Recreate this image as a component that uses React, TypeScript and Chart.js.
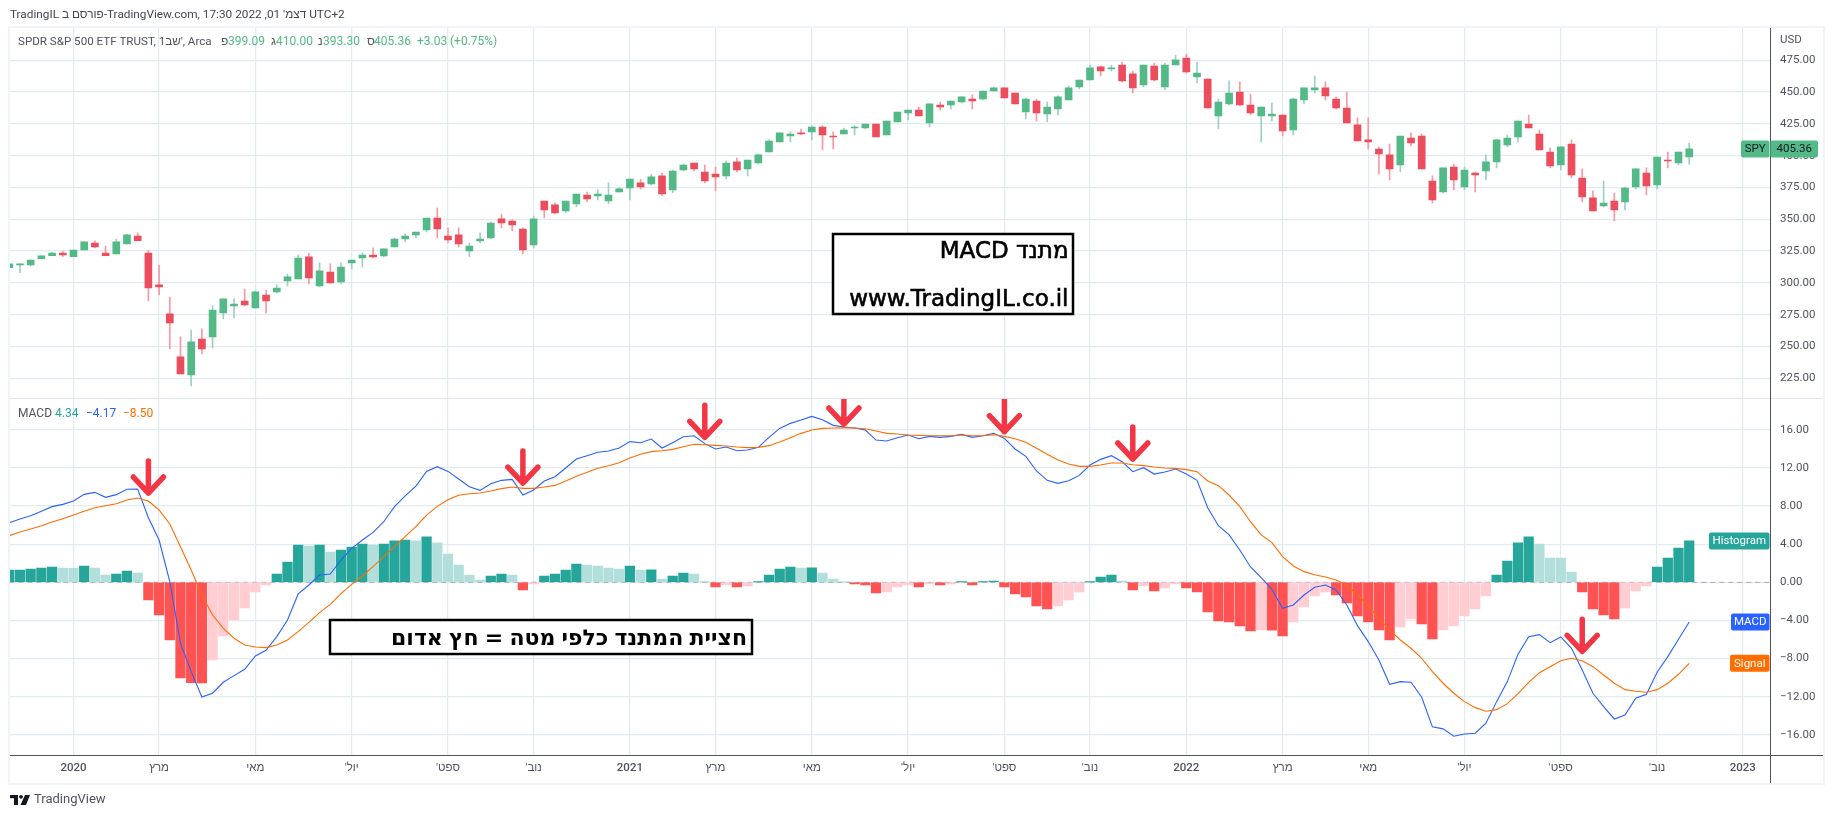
import React, { useEffect, useRef } from "react";
import { Chart, registerables } from "chart.js";

Chart.register(...registerables);

const opens = [312,314.1,314.1,319.1,321.4,323.5,320.6,325.9,331.4,323.5,322.7,330.6,336.9,323.5,298.4,275.6,241.8,227.6,255.9,257.5,276.4,281.9,285.8,280.3,290.5,292.9,301.5,303.1,320.4,297.6,308.6,300.7,315.7,319.6,321.9,321.2,328.3,334.5,337.7,341.6,351,336.9,337.7,325.1,333,335.3,350.3,348.7,342.4,329.8,364.4,361.3,356.5,362,369.1,368.3,364.4,371.5,374.6,378.6,377.8,384.1,373.1,388.8,394.3,387.2,385.6,384.1,395.1,389.6,394.3,402.9,410.8,415.5,417.9,418.7,422.6,415.5,417.1,421.8,421.8,424.9,416.3,426.5,433.6,435.9,425.7,439.9,439.9,442.2,444.6,444.6,450.9,453.3,449.3,434.4,443,432.8,436.7,443.8,454,459.5,469.8,468.2,471.3,464.3,455.6,470.5,454,471.3,476.8,461.9,460.3,431.2,440.7,450.1,439.9,431.2,431.2,432,420.2,443.8,451.7,453.3,444.6,437.5,424.2,412.4,405.3,400.6,392.7,413.9,415.5,380.1,371.5,391.1,375.4,386.4,388,395.1,408.4,414.7,424.9,417.1,402.9,392.7,409.2,382.5,366.8,360.5,364.4,363.6,375.4,386.4,377,396.6,394.3,399.09];
const highs = [314.9,314.9,318,321.2,324,324.8,325.9,332.2,333,329,334.5,338.2,339.3,325.9,314.1,288.9,257.5,263,263.8,281.9,287.4,287.4,295.2,293.7,294.4,298.4,307,321.9,323.5,315.7,314.9,315.7,318,323.5,327.5,326.7,335.3,338.5,340,351,358.9,343.2,343.2,331.4,339.3,347.9,354.2,349.5,343.2,352.6,364.4,362.8,364.4,369.9,371.5,373.1,378.6,374.6,381.7,381.7,385.6,386.4,388.8,393.5,394.3,392.7,391.1,395.9,398.2,396.6,401.4,412.4,417.9,418.7,421,423.4,423.4,418.7,421.8,423.4,424.9,424.9,427.3,434.4,435.9,438.3,440.7,442.2,443,446.2,447.8,450.9,454,453.3,449.3,445.4,444.6,442.2,447,454.8,459.5,471.3,470.5,471.3,473.7,466.6,471.3,472.9,472.9,479.2,480,473.7,460.3,444.6,458.8,458,448.5,438.3,441.5,432,445.4,453.3,462.7,458,446.2,450.1,429.7,429.7,406.9,409.2,415.5,417.9,417.1,384.1,390.4,393.5,391.1,387.2,400.6,413.1,416.3,427.3,432,420.2,406.1,406.9,412.4,389.6,372.3,380.1,370.7,375.4,389.6,390.4,399,402.9,402.9,410];
const lows = [312,308.1,313.3,319.1,321.4,320.6,320.6,325.9,327.5,321.4,322.7,330.6,333.2,285.8,290.5,248,228.4,218.9,244.1,248.8,271.6,272.4,281.9,280.3,276.4,292.1,297.6,303.1,299.2,296.8,299.9,299.2,310.9,312.5,319.6,320.4,328.3,332.2,335.3,340,335.3,331.4,328.3,320.4,331.4,334.5,343.2,340.8,322.7,327.5,351,354.2,355,359.7,363.6,365.2,362,371.5,365.2,373.9,377,368.3,370.7,388,388,378.6,372.3,381.7,387.2,384.1,393.5,402.9,410.8,410.8,416.3,412.4,404.5,405.3,417.1,416.3,421,414.7,416.3,426.5,428.1,431.2,422.6,435.9,436.7,441.5,436.7,443.8,450.9,445.4,440.7,428.9,427.3,426.5,432,443.8,452.5,459.5,462.7,466.6,458,449.3,454,458.8,451.7,471.3,465,457.2,437.5,421,439.9,439.1,432,410.8,427.3,415.5,416.3,440.7,449.3,443.8,436.7,425.7,411.6,405.3,385.6,380.9,387.2,407.7,389.6,362.8,370.7,373.1,373.1,371.5,380.9,390.4,406.9,410.8,421.8,404.5,390.4,388.8,382.5,363.6,356.5,359.7,348.7,357.3,373.9,369.1,373.9,390.4,392.7,393.3];
const closes = [314.9,314.9,318,321.2,323.5,322,325.9,332.2,328.3,321.4,332.2,337.7,333.2,296,296.8,268.5,228.4,253.6,248,278.7,287.4,283.4,282.7,292.9,285.8,296,304.7,319.6,303.9,309.4,299.9,312.5,318,321.9,320.4,326.7,334.5,336.9,340,351,342.4,333.8,330.6,329,334.5,347.1,347.1,345.5,325.9,350.3,357.3,355,364.4,369.9,366,369.9,369.1,373.9,381.7,375.4,383.3,369.9,388,392.7,389.6,380.1,383.3,394.3,388.8,396.6,400.6,411.6,417.9,417.1,417.1,422.6,416.3,414.7,420.2,422.6,424.9,414.7,427.3,434.4,435.9,431.2,440.7,438.3,443,446.2,443,450.9,453.3,445.4,440.7,444.6,433.6,438.3,446.2,453.3,459.5,469,466.6,469,458.8,453.3,471.3,459.5,471.3,475.3,465.8,465,437.5,442.2,449.3,439.9,433.6,438.3,432.8,419.4,444.6,453.3,453.3,447,437.5,425.7,411.6,410.8,401.4,389.6,415.5,410,389.6,365.2,390.4,380.9,388.8,384.9,395.1,412.4,413.9,427.3,421.8,404.5,391.9,406.9,384.9,367.6,356.5,362.8,357.3,374.6,389.6,376.2,399,395.9,402.9,405.36];
const histogram = [1.29,1.29,1.4,1.5,1.61,1.5,1.48,1.71,1.5,0.77,0.87,1.19,0.98,-1.85,-3.43,-6.05,-10.03,-10.54,-10.56,-8.15,-5.63,-3.95,-2.69,-1.01,-0.28,0.87,2.13,3.92,3.81,3.92,3.18,3.39,3.71,4.02,3.92,4.02,4.34,4.44,4.34,4.76,4.13,2.97,1.82,0.77,0.24,0.66,0.87,0.77,-0.8,-0.17,0.66,0.87,1.29,1.92,1.82,1.71,1.5,1.4,1.71,1.29,1.3,0.35,0.66,0.98,0.87,0.03,-0.49,-0.28,-0.49,-0.38,0.03,0.77,1.4,1.61,1.5,1.52,0.98,0.35,0.03,-0.17,-0.28,-1.12,-1.01,-0.49,-0.28,-0.49,-0.17,-0.28,-0.17,0.03,-0.28,0.03,0.14,-0.49,-1.22,-1.54,-2.48,-2.8,-2.48,-1.85,-1.01,0.03,0.56,0.77,0.14,-0.8,-0.38,-0.91,-0.59,-0.17,-0.59,-1.01,-3.11,-4.06,-4.16,-4.58,-5.1,-5,-5.02,-5.63,-4.16,-2.59,-1.43,-1.01,-1.33,-2.17,-3.53,-4.16,-5,-6.05,-4.69,-3.85,-4.37,-5.94,-5,-4.58,-3.53,-2.8,-1.43,0.77,2.24,4.13,4.76,4.02,2.55,2.53,1.08,-1.01,-2.8,-3.43,-3.85,-2.69,-0.91,-0.38,1.61,2.55,3.6,4.34];
const macdLine = [6.26,6.64,6.99,7.45,7.94,8.18,8.53,9.23,9.44,8.92,9.2,9.76,9.79,6.78,4.44,0.07,-6.4,-9.37,-12.03,-11.64,-10.49,-9.79,-9.13,-7.73,-7.13,-5.7,-3.95,-1.22,-0.28,0.77,0.87,2.34,3.57,4.44,5.24,6.36,7.94,9.06,10.1,11.64,12.13,11.64,10.84,10.03,9.65,10.35,10.7,10.8,9.16,9.69,10.63,11.08,11.99,12.94,13.29,13.64,13.78,14.09,14.76,14.65,15.03,14.09,14.65,15.28,15.38,14.55,13.99,14.2,13.81,13.88,14.16,15.21,16.15,16.68,17.03,17.41,17.06,16.47,16.29,16.19,15.98,14.93,14.83,15.17,15.45,15.07,15.31,15.21,15.31,15.52,15.21,15.38,15.63,15.1,13.99,13.22,11.68,10.7,10.38,10.66,11.22,12.31,12.9,13.29,12.66,11.61,12.03,11.36,11.57,11.89,11.36,10.7,7.83,5.94,4.97,3.39,1.61,0.49,-0.73,-2.73,-2.38,-1.33,-0.52,-0.28,-0.8,-2.38,-4.55,-6.22,-8.15,-10.7,-10.42,-10.49,-12.06,-15.17,-15.38,-16.15,-15.91,-15.84,-14.79,-12.52,-10.42,-7.55,-5.7,-5.49,-6.33,-5.73,-6.92,-9.2,-11.64,-13.04,-14.34,-13.92,-12.17,-11.75,-9.44,-7.8,-5.98,-4.17];
const signalLine = [4.9,5.28,5.59,5.94,6.33,6.68,7.06,7.45,7.83,8.04,8.25,8.64,8.85,8.53,7.59,6.12,3.74,1.29,-1.33,-3.43,-4.83,-5.87,-6.57,-6.78,-6.85,-6.57,-6.05,-5.17,-4.2,-3.18,-2.31,-1.19,-0.21,0.66,1.64,2.69,3.74,4.79,5.84,7.06,7.97,8.67,9.13,9.3,9.37,9.58,9.83,10,9.86,9.86,10,10.17,10.63,11.12,11.54,11.96,12.24,12.55,13.04,13.43,13.71,13.81,13.95,14.23,14.48,14.44,14.37,14.3,14.2,14.13,14.16,14.34,14.72,15.17,15.63,15.98,16.15,16.19,16.22,16.19,16.12,15.87,15.63,15.56,15.45,15.42,15.38,15.38,15.38,15.45,15.38,15.38,15.49,15.31,15.07,14.69,14.06,13.43,12.83,12.41,12.17,12.17,12.31,12.52,12.52,12.34,12.24,12.1,11.99,11.96,11.82,11.61,10.63,10.14,9.16,7.94,6.36,4.97,4.16,2.69,1.71,1.12,0.8,0.56,0.24,-0.28,-1.33,-2.45,-3.78,-5,-6.05,-6.92,-7.97,-9.37,-10.59,-11.64,-12.52,-13.15,-13.53,-13.36,-12.73,-11.68,-10.49,-9.48,-8.85,-8.22,-7.97,-8.22,-8.85,-9.72,-10.59,-11.26,-11.43,-11.54,-11.26,-10.59,-9.65,-8.5];

const timeTickBars = [6,14,23,32,41,49,58,66,75,84,93,101,110,119,127,136,145,154,162];
const timeTickLabels = ["2020","מרץ","מאי","יול'\u200f","ספט'\u200f","נוב'\u200f","2021","מרץ","מאי","יול'\u200f","ספט'\u200f","נוב'\u200f","2022","מרץ","מאי","יול'\u200f","ספט'\u200f","נוב'\u200f","2023"];
const priceTicks = [225,250,275,300,325,350,375,400,425,450,475];
const macdTicks = [-16,-12,-8,-4,0,4,8,12,16];
const arrowBars = [13,48,65,78,93,105,147];
const arrowValues = [9.16,10.2,15.0,16.4,15.6,12.73,-7.45];

const FONT = "Roboto, sans-serif";
const UP = "#53b987", DOWN = "#eb4d5c";
const UP_W = "#9ccfc6", DOWN_W = "#f798a4";
const GRID = "#e1ebf2";
const AXIS = "#50535e";
const TEXT = "#50535e";

const bars = opens.map((_, i) => i);
const isUp = bars.map((i) => closes[i] >= opens[i]);
const histColors = histogram.map((v, i) => {
  const p = i === 0 ? v : histogram[i - 1];
  if (v >= 0) return v >= p ? "#26a69a" : "#b2dfdb";
  return v <= p ? "#ff5252" : "#ffcdd2";
});

function tag(ctx: CanvasRenderingContext2D, x0: number, x1: number, yc: number, text: string, bg: string, fg: string) {
  ctx.fillStyle = bg;
  ctx.beginPath();
  ctx.roundRect(x0, yc - 8.5, x1 - x0, 17, 2);
  ctx.fill();
  ctx.fillStyle = fg;
  ctx.font = `11.5px ${FONT}`;
  ctx.textAlign = "center";
  ctx.textBaseline = "middle";
  ctx.fillText(text, (x0 + x1) / 2, yc + 0.5);
}

function run(ctx: CanvasRenderingContext2D, x: number, y: number, text: string, color: string) {
  ctx.fillStyle = color;
  ctx.fillText(text, x, y);
}

function heavy(ctx: CanvasRenderingContext2D, text: string, x: number, y: number) {
  ctx.fillText(text, x, y);
  ctx.strokeText(text, x, y);
}

const overlay = {
  id: "overlay",
  afterDraw(chart: any) {
    const { ctx, scales } = chart;
    const px = scales.x, pr = scales.price, mc = scales.macd;
    ctx.save();
    // frame
    ctx.strokeStyle = "#f0f3fa";
    ctx.lineWidth = 2;
    ctx.strokeRect(9, 27, 1815, 757);
    // pane separator and axes
    ctx.fillStyle = "#e0e3eb";
    ctx.fillRect(10, 398, 1813, 1);
    ctx.fillStyle = AXIS;
    ctx.fillRect(1770, 28, 1, 755);
    ctx.fillRect(10, 755, 1813, 1);

    // arrows
    ctx.save();
    ctx.beginPath();
    ctx.rect(10, 399, 1760, 356);
    ctx.clip();
    ctx.strokeStyle = "#f23645";
    ctx.lineWidth = 5.5;
    ctx.lineCap = "round";
    ctx.lineJoin = "round";
    arrowBars.forEach((b, k) => {
      const x = px.getPixelForValue(b);
      const y = mc.getPixelForValue(arrowValues[k]) - 2;
      ctx.beginPath();
      ctx.moveTo(x, y - 32);
      ctx.lineTo(x, y);
      ctx.moveTo(x - 15, y - 16);
      ctx.lineTo(x, y);
      ctx.lineTo(x + 15, y - 16);
      ctx.stroke();
    });
    ctx.restore();

    // annotation boxes
    ctx.strokeStyle = "#000";
    ctx.lineWidth = 2.5;
    ctx.fillStyle = "#fff";
    ctx.fillRect(833, 234, 240, 80);
    ctx.strokeRect(833, 234, 240, 80);
    ctx.fillRect(330, 620, 422, 34);
    ctx.strokeRect(330, 620, 422, 34);
    ctx.fillStyle = "#000";
    ctx.strokeStyle = "#000";
    ctx.textBaseline = "alphabetic";
    ctx.textAlign = "right";
    ctx.direction = "rtl";
    ctx.lineWidth = 0.6;
    ctx.font = "23px 'DejaVu Sans'";
    heavy(ctx, "מתנד MACD", 1068.5, 258);
    heavy(ctx, "www.TradingIL.co.il", 1068.5, 306);
    ctx.font = "bold 22px 'DejaVu Sans'";
    (ctx as any).wordSpacing = "-1.5px";
    ctx.fillText("חציית המתנד כלפי מטה = חץ אדום", 747, 645);
    (ctx as any).wordSpacing = "0px";
    ctx.direction = "ltr";

    // value tags
    const lastClose = closes[closes.length - 1];
    const lastUp = isUp[isUp.length - 1] ? UP : DOWN;
    const yp = pr.getPixelForValue(lastClose);
    tag(ctx, 1741, 1769.5, yp, "SPY", lastUp, "#131722");
    tag(ctx, 1770.5, 1818, yp, lastClose.toFixed(2), lastUp, "#131722");
    tag(ctx, 1709, 1769.5, mc.getPixelForValue(histogram[histogram.length - 1]), "Histogram", "#26a69a", "#fff");
    tag(ctx, 1731, 1769.5, mc.getPixelForValue(macdLine[macdLine.length - 1]), "MACD", "#2962ff", "#fff");
    tag(ctx, 1730, 1769.5, mc.getPixelForValue(signalLine[signalLine.length - 1]), "Signal", "#ff6d00", "#fff");

    // texts
    ctx.textAlign = "left";
    ctx.textBaseline = "middle";
    ctx.font = `11.5px ${FONT}`;
    run(ctx, 1780, 40, "USD", TEXT);
    ctx.font = `11.8px ${FONT}`;
    run(ctx, 10, 15, "TradingIL פורסם ב-TradingView.com, דצמ' 01, 2022 17:30 UTC+2", "#434651");
    ctx.font = `11.6px ${FONT}`;
    run(ctx, 18, 42, "SPDR S&P 500 ETF TRUST, 1שב', Arca", TEXT);
    ctx.font = `12px ${FONT}`;
    run(ctx, 221, 42, "פ", TEXT);
    run(ctx, 228, 42, "399.09", UP);
    run(ctx, 271, 42, "ג", TEXT);
    run(ctx, 276, 42, "410.00", UP);
    run(ctx, 318, 42, "נ", TEXT);
    run(ctx, 323, 42, "393.30", UP);
    run(ctx, 367, 42, "ס", TEXT);
    run(ctx, 374, 42, "405.36", UP);
    run(ctx, 417, 42, "+3.03", UP);
    run(ctx, 450, 42, "(+0.75%)", UP);
    run(ctx, 18, 414, "MACD", TEXT);
    run(ctx, 55, 414, histogram[histogram.length - 1].toFixed(2), "#26a69a");
    run(ctx, 86, 414, "−" + Math.abs(macdLine[macdLine.length - 1]).toFixed(2), "#2962ff");
    run(ctx, 123, 414, "−" + Math.abs(signalLine[signalLine.length - 1]).toFixed(2), "#ff6d00");

    // footer logo and wordmark
    ctx.fillStyle = "#131722";
    ctx.fillRect(10, 795, 8, 3.2);
    ctx.fillRect(14, 795, 4, 10);
    ctx.beginPath();
    ctx.arc(21, 796.8, 1.9, 0, Math.PI * 2);
    ctx.fill();
    ctx.beginPath();
    ctx.moveTo(25, 795);
    ctx.lineTo(30, 795);
    ctx.lineTo(26, 805);
    ctx.lineTo(20.5, 805);
    ctx.closePath();
    ctx.fill();
    ctx.font = `13px ${FONT}`;
    run(ctx, 34, 800, "TradingView", TEXT);
    ctx.restore();
  },
};

export default function App() {
  const ref = useRef<HTMLCanvasElement>(null);
  useEffect(() => {
    const chart = new Chart(ref.current as HTMLCanvasElement, {
      type: "bar",
      data: {
        datasets: [
          {
            type: "line",
            data: [{ x: 0, y: 0 }, { x: 164.55, y: 0 }],
            yAxisID: "macd",
            borderColor: "#a8abb5",
            borderWidth: 1,
            borderDash: [5, 4],
            pointRadius: 0,
            order: 5,
          },
          {
            type: "line",
            data: bars.map((i) => ({ x: i, y: signalLine[i] })),
            yAxisID: "macd",
            borderColor: "#ff6d00",
            borderWidth: 1.1,
            pointRadius: 0,
            tension: 0,
            order: 1,
          },
          {
            type: "line",
            data: bars.map((i) => ({ x: i, y: macdLine[i] })),
            yAxisID: "macd",
            borderColor: "#2962ff",
            borderWidth: 1.1,
            pointRadius: 0,
            tension: 0,
            order: 2,
          },
          {
            data: bars.map((i) => ({ x: i, y: histogram[i] })),
            yAxisID: "macd",
            backgroundColor: histColors,
            barThickness: 9.6,
            grouped: false,
            order: 4,
          },
          {
            data: bars.map((i) => ({ x: i, y: [opens[i], closes[i]] })),
            yAxisID: "price",
            backgroundColor: isUp.map((u) => (u ? UP : DOWN)),
            barThickness: 7,
            grouped: false,
            order: 6,
          },
          {
            data: bars.map((i) => ({ x: i, y: [lows[i], highs[i]] })),
            yAxisID: "price",
            backgroundColor: isUp.map((u) => (u ? UP_W : DOWN_W)),
            barThickness: 1,
            grouped: false,
            order: 7,
          },
        ] as any,
      },
      options: {
        responsive: false,
        animation: false,
        devicePixelRatio: 1,
        layout: { padding: { left: 9.5, right: 11, top: 27, bottom: 36 } },
        plugins: { legend: { display: false }, tooltip: { enabled: false } },
        scales: {
          x: {
            type: "linear",
            offset: false,
            min: 0.02,
            max: 164.55,
            afterBuildTicks: (s: any) => {
              s.ticks = timeTickBars.map((v) => ({ value: v }));
            },
            afterFit: (s: any) => {
              s.height = 27;
            },
            ticks: {
              autoSkip: false,
              maxRotation: 0,
              padding: 6,
              color: TEXT,
              font: (c: any) => ({
                family: FONT,
                size: 11.5,
                weight: /^\d+$/.test(timeTickLabels[timeTickBars.indexOf(c.tick?.value)] ?? "") ? "500" : "400",
              }),
              callback: (v: any) => timeTickLabels[timeTickBars.indexOf(v)] ?? "",
            },
            grid: { color: GRID, drawTicks: false, offset: false, lineWidth: 1.25 },
            border: { display: false },
          },
          price: {
            type: "linear",
            position: "right",
            stack: "panes",
            stackWeight: 371,
            min: 209.5,
            max: 501.2,
            afterBuildTicks: (s: any) => {
              s.ticks = priceTicks.map((v) => ({ value: v }));
            },
            afterFit: (s: any) => {
              s.width = 53;
            },
            ticks: {
              padding: 10,
              color: TEXT,
              font: { family: FONT, size: 11.5 },
              callback: (v: any) => Number(v).toFixed(2),
            },
            grid: { color: GRID, drawTicks: false, lineWidth: 1.25 },
            border: { display: false },
          },
          macd: {
            type: "linear",
            position: "right",
            stack: "panes",
            stackWeight: 357,
            min: -18.12,
            max: 19.34,
            afterBuildTicks: (s: any) => {
              s.ticks = macdTicks.map((v) => ({ value: v }));
            },
            afterFit: (s: any) => {
              s.width = 53;
            },
            ticks: {
              padding: 10,
              color: TEXT,
              font: { family: FONT, size: 11.5 },
              callback: (v: any) => (Number(v) < 0 ? "−" : "") + Math.abs(Number(v)).toFixed(2),
            },
            grid: { color: GRID, drawTicks: false, lineWidth: 1.25 },
            border: { display: false },
          },
        },
      } as any,
      plugins: [overlay],
    });
    return () => chart.destroy();
  }, []);
  return (
    <canvas
      ref={ref}
      width={1834}
      height={818}
      style={{ position: "fixed", left: 0, top: 0, width: 1834, height: 818, display: "block" }}
    />
  );
}
